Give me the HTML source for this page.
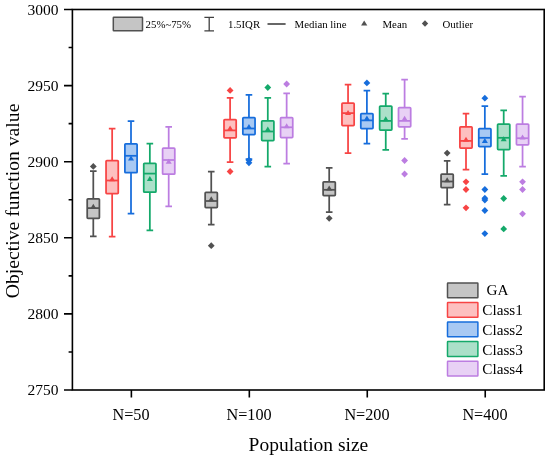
<!DOCTYPE html>
<html lang="en"><head><meta charset="utf-8"><title>Box plot</title>
<style>html,body{margin:0;padding:0;background:#fff}body{width:550px;height:460px;overflow:hidden}</style>
</head><body>
<svg width="550" height="460" viewBox="0 0 550 460" style="display:block">
<rect width="550" height="460" fill="#fff"/>
<g stroke="#515151" stroke-width="1.75" fill="none">
<path d="M93.3 171.2V198.8M93.3 218.3V236.3M90 171.2H96.6M90 236.3H96.6"/>
<rect x="87.2" y="198.8" width="12.2" height="19.5" fill="#c5c5c5" rx="0.8"/>
<path d="M87.2 208.1H99.4"/>
</g>
<path d="M90.3 208.7L96.3 208.7L93.3 203.7Z" fill="#515151"/>
<path d="M89.9 166.4L93.3 163L96.7 166.4L93.3 169.8Z" fill="#515151"/>
<g stroke="#F74444" stroke-width="1.75" fill="none">
<path d="M112.15 128.5V160.5M112.15 193.6V236.5M108.85 128.5H115.45M108.85 236.5H115.45"/>
<rect x="106.05" y="160.5" width="12.2" height="33.1" fill="#fdc0c0" rx="0.8"/>
<path d="M106.05 180.5H118.25"/>
</g>
<path d="M109.15 181.3L115.15 181.3L112.15 176.3Z" fill="#F74444"/>
<g stroke="#166DDC" stroke-width="1.75" fill="none">
<path d="M131 121.1V143.8M131 172.7V213.6M127.7 121.1H134.3M127.7 213.6H134.3"/>
<rect x="124.9" y="143.8" width="12.2" height="28.9" fill="#a8c9f3" rx="0.8"/>
<path d="M124.9 155.8H137.1"/>
</g>
<path d="M128 160.6L134 160.6L131 155.6Z" fill="#166DDC"/>
<g stroke="#14A96A" stroke-width="1.75" fill="none">
<path d="M149.85 143.6V163.3M149.85 192.2V230.4M146.55 143.6H153.15M146.55 230.4H153.15"/>
<rect x="143.75" y="163.3" width="12.2" height="28.9" fill="#abe0c9" rx="0.8"/>
<path d="M143.75 173.6H155.95"/>
</g>
<path d="M146.85 180.9L152.85 180.9L149.85 175.9Z" fill="#14A96A"/>
<g stroke="#BC7DE1" stroke-width="1.75" fill="none">
<path d="M168.7 126.9V148.2M168.7 174.2V206.4M165.4 126.9H172M165.4 206.4H172"/>
<rect x="162.6" y="148.2" width="12.2" height="26" fill="#e8d1f5" rx="0.8"/>
<path d="M162.6 160H174.8"/>
</g>
<path d="M165.7 163.7L171.7 163.7L168.7 158.7Z" fill="#BC7DE1"/>
<g stroke="#515151" stroke-width="1.75" fill="none">
<path d="M211.25 171.5V192.4M211.25 207.5V224.5M207.95 171.5H214.55M207.95 224.5H214.55"/>
<rect x="205.15" y="192.4" width="12.2" height="15.1" fill="#c5c5c5" rx="0.8"/>
<path d="M205.15 201H217.35"/>
</g>
<path d="M208.25 201.2L214.25 201.2L211.25 196.2Z" fill="#515151"/>
<path d="M207.85 245.7L211.25 242.3L214.65 245.7L211.25 249.1Z" fill="#515151"/>
<g stroke="#F74444" stroke-width="1.75" fill="none">
<path d="M230.1 97.8V119.5M230.1 137.9V162.2M226.8 97.8H233.4M226.8 162.2H233.4"/>
<rect x="224" y="119.5" width="12.2" height="18.4" fill="#fdc0c0" rx="0.8"/>
<path d="M224 130.4H236.2"/>
</g>
<path d="M227.1 130.4L233.1 130.4L230.1 125.4Z" fill="#F74444"/>
<path d="M226.7 90.4L230.1 87L233.5 90.4L230.1 93.8Z" fill="#F74444"/>
<path d="M226.7 171.5L230.1 168.1L233.5 171.5L230.1 174.9Z" fill="#F74444"/>
<g stroke="#166DDC" stroke-width="1.75" fill="none">
<path d="M248.95 94.9V117.6M248.95 134.5V159M245.65 94.9H252.25M245.65 159H252.25"/>
<rect x="242.85" y="117.6" width="12.2" height="16.9" fill="#a8c9f3" rx="0.8"/>
<path d="M242.85 128.5H255.05"/>
</g>
<path d="M245.95 128.9L251.95 128.9L248.95 123.9Z" fill="#166DDC"/>
<path d="M245.55 160.2L248.95 156.8L252.35 160.2L248.95 163.6Z" fill="#166DDC"/>
<path d="M245.55 162.8L248.95 159.4L252.35 162.8L248.95 166.2Z" fill="#166DDC"/>
<g stroke="#14A96A" stroke-width="1.75" fill="none">
<path d="M267.8 97.8V120.9M267.8 140.5V166.7M264.5 97.8H271.1M264.5 166.7H271.1"/>
<rect x="261.7" y="120.9" width="12.2" height="19.6" fill="#abe0c9" rx="0.8"/>
<path d="M261.7 131.5H273.9"/>
</g>
<path d="M264.8 131.5L270.8 131.5L267.8 126.5Z" fill="#14A96A"/>
<path d="M264.4 87.5L267.8 84.1L271.2 87.5L267.8 90.9Z" fill="#14A96A"/>
<g stroke="#BC7DE1" stroke-width="1.75" fill="none">
<path d="M286.65 93.3V117.6M286.65 137.6V163.5M283.35 93.3H289.95M283.35 163.5H289.95"/>
<rect x="280.55" y="117.6" width="12.2" height="20" fill="#e8d1f5" rx="0.8"/>
<path d="M280.55 127.3H292.75"/>
</g>
<path d="M283.65 128.2L289.65 128.2L286.65 123.2Z" fill="#BC7DE1"/>
<path d="M283.25 84L286.65 80.6L290.05 84L286.65 87.4Z" fill="#BC7DE1"/>
<g stroke="#515151" stroke-width="1.75" fill="none">
<path d="M329.2 167.9V181.8M329.2 195.6V212.1M325.9 167.9H332.5M325.9 212.1H332.5"/>
<rect x="323.1" y="181.8" width="12.2" height="13.8" fill="#c5c5c5" rx="0.8"/>
<path d="M323.1 189.8H335.3"/>
</g>
<path d="M326.2 190.6L332.2 190.6L329.2 185.6Z" fill="#515151"/>
<path d="M325.8 218.3L329.2 214.9L332.6 218.3L329.2 221.7Z" fill="#515151"/>
<g stroke="#F74444" stroke-width="1.75" fill="none">
<path d="M348.05 84.5V103.1M348.05 125.5V153.1M344.75 84.5H351.35M344.75 153.1H351.35"/>
<rect x="341.95" y="103.1" width="12.2" height="22.4" fill="#fdc0c0" rx="0.8"/>
<path d="M341.95 113.1H354.15"/>
</g>
<path d="M345.05 114.9L351.05 114.9L348.05 109.9Z" fill="#F74444"/>
<g stroke="#166DDC" stroke-width="1.75" fill="none">
<path d="M366.9 90.5V113.6M366.9 128.6V143.6M363.6 90.5H370.2M363.6 143.6H370.2"/>
<rect x="360.8" y="113.6" width="12.2" height="15" fill="#a8c9f3" rx="0.8"/>
<path d="M360.8 120.4H373"/>
</g>
<path d="M363.9 120.4L369.9 120.4L366.9 115.4Z" fill="#166DDC"/>
<path d="M363.5 82.9L366.9 79.5L370.3 82.9L366.9 86.3Z" fill="#166DDC"/>
<g stroke="#14A96A" stroke-width="1.75" fill="none">
<path d="M385.75 93.5V106M385.75 130V149.8M382.45 93.5H389.05M382.45 149.8H389.05"/>
<rect x="379.65" y="106" width="12.2" height="24" fill="#abe0c9" rx="0.8"/>
<path d="M379.65 120.9H391.85"/>
</g>
<path d="M382.75 121.3L388.75 121.3L385.75 116.3Z" fill="#14A96A"/>
<g stroke="#BC7DE1" stroke-width="1.75" fill="none">
<path d="M404.6 79.6V107.6M404.6 126.9V138.9M401.3 79.6H407.9M401.3 138.9H407.9"/>
<rect x="398.5" y="107.6" width="12.2" height="19.3" fill="#e8d1f5" rx="0.8"/>
<path d="M398.5 120.9H410.7"/>
</g>
<path d="M401.6 120.7L407.6 120.7L404.6 115.7Z" fill="#BC7DE1"/>
<path d="M401.2 160.5L404.6 157.1L408 160.5L404.6 163.9Z" fill="#BC7DE1"/>
<path d="M401.2 174L404.6 170.6L408 174L404.6 177.4Z" fill="#BC7DE1"/>
<g stroke="#515151" stroke-width="1.75" fill="none">
<path d="M447.15 160.9V174.2M447.15 187.6V204.5M443.85 160.9H450.45M443.85 204.5H450.45"/>
<rect x="441.05" y="174.2" width="12.2" height="13.4" fill="#c5c5c5" rx="0.8"/>
<path d="M441.05 181.5H453.25"/>
</g>
<path d="M444.15 182.2L450.15 182.2L447.15 177.2Z" fill="#515151"/>
<path d="M443.75 153.1L447.15 149.7L450.55 153.1L447.15 156.5Z" fill="#515151"/>
<g stroke="#F74444" stroke-width="1.75" fill="none">
<path d="M466 113.5V126.9M466 148V169.5M462.7 113.5H469.3M462.7 169.5H469.3"/>
<rect x="459.9" y="126.9" width="12.2" height="21.1" fill="#fdc0c0" rx="0.8"/>
<path d="M459.9 140.9H472.1"/>
</g>
<path d="M463 141.8L469 141.8L466 136.8Z" fill="#F74444"/>
<path d="M462.6 181.8L466 178.4L469.4 181.8L466 185.2Z" fill="#F74444"/>
<path d="M462.6 189.5L466 186.1L469.4 189.5L466 192.9Z" fill="#F74444"/>
<path d="M462.6 207.8L466 204.4L469.4 207.8L466 211.2Z" fill="#F74444"/>
<g stroke="#166DDC" stroke-width="1.75" fill="none">
<path d="M484.85 106V128.7M484.85 146.6V174.2M481.55 106H488.15M481.55 174.2H488.15"/>
<rect x="478.75" y="128.7" width="12.2" height="17.9" fill="#a8c9f3" rx="0.8"/>
<path d="M478.75 137.8H490.95"/>
</g>
<path d="M481.85 143.1L487.85 143.1L484.85 138.1Z" fill="#166DDC"/>
<path d="M481.45 98.2L484.85 94.8L488.25 98.2L484.85 101.6Z" fill="#166DDC"/>
<path d="M481.45 189.5L484.85 186.1L488.25 189.5L484.85 192.9Z" fill="#166DDC"/>
<path d="M481.45 198.2L484.85 194.8L488.25 198.2L484.85 201.6Z" fill="#166DDC"/>
<path d="M481.45 200L484.85 196.6L488.25 200L484.85 203.4Z" fill="#166DDC"/>
<path d="M481.45 210.5L484.85 207.1L488.25 210.5L484.85 213.9Z" fill="#166DDC"/>
<path d="M481.45 233.6L484.85 230.2L488.25 233.6L484.85 237Z" fill="#166DDC"/>
<g stroke="#14A96A" stroke-width="1.75" fill="none">
<path d="M503.7 110.4V124M503.7 149.5V175.8M500.4 110.4H507M500.4 175.8H507"/>
<rect x="497.6" y="124" width="12.2" height="25.5" fill="#abe0c9" rx="0.8"/>
<path d="M497.6 137.8H509.8"/>
</g>
<path d="M500.7 141.3L506.7 141.3L503.7 136.3Z" fill="#14A96A"/>
<path d="M500.3 198.5L503.7 195.1L507.1 198.5L503.7 201.9Z" fill="#14A96A"/>
<path d="M500.3 228.9L503.7 225.5L507.1 228.9L503.7 232.3Z" fill="#14A96A"/>
<g stroke="#BC7DE1" stroke-width="1.75" fill="none">
<path d="M522.55 96.7V124M522.55 144.9V166.7M519.25 96.7H525.85M519.25 166.7H525.85"/>
<rect x="516.45" y="124" width="12.2" height="20.9" fill="#e8d1f5" rx="0.8"/>
<path d="M516.45 138.2H528.65"/>
</g>
<path d="M519.55 139.5L525.55 139.5L522.55 134.5Z" fill="#BC7DE1"/>
<path d="M519.15 181.8L522.55 178.4L525.95 181.8L522.55 185.2Z" fill="#BC7DE1"/>
<path d="M519.15 189.5L522.55 186.1L525.95 189.5L522.55 192.9Z" fill="#BC7DE1"/>
<path d="M519.15 213.8L522.55 210.4L525.95 213.8L522.55 217.2Z" fill="#BC7DE1"/>
<g stroke="#000" stroke-width="1.6" fill="none">
<rect x="72.4" y="9.5" width="471.8" height="380.5"/>
<path d="M64 9.5H72.4M64 85.6H72.4M64 161.7H72.4M64 237.8H72.4M64 313.9H72.4M64 390H72.4M68.6 47.55H72.4M68.6 123.65H72.4M68.6 199.75H72.4M68.6 275.85H72.4M68.6 351.95H72.4M131.38 390.0V397.6M249.33 390.0V397.6M367.27 390.0V397.6M485.23 390.0V397.6"/>
</g>
<g font-family="'Liberation Serif', 'Times New Roman', serif" fill="#000">
<g font-size="15.5" text-anchor="end">
<text x="58.6" y="14.8">3000</text>
<text x="58.6" y="90.9">2950</text>
<text x="58.6" y="167">2900</text>
<text x="58.6" y="243.1">2850</text>
<text x="58.6" y="319.2">2800</text>
<text x="58.6" y="395.3">2750</text>
</g>
<g font-size="16.2" text-anchor="middle">
<text x="131.07" y="420.2">N=50</text>
<text x="249.03" y="420.2">N=100</text>
<text x="366.97" y="420.2">N=200</text>
<text x="484.93" y="420.2">N=400</text>
</g>
<text x="308.4" y="450.6" font-size="19.5" text-anchor="middle">Population size</text>
<text transform="translate(19.3 200.9) rotate(-90)" font-size="19.7" text-anchor="middle">Objective function value</text>
<g font-size="10.8">
<text x="145.6" y="27.9">25%~75%</text>
<text x="228" y="27.9">1.5IQR</text>
<text x="294.6" y="27.9">Median line</text>
<text x="382.5" y="27.9">Mean</text>
<text x="442.5" y="27.9">Outlier</text>
</g>
<g font-size="15.2">
<text x="486.5" y="295.4">GA</text>
<text x="482.3" y="315.3">Class1</text>
<text x="482.3" y="334.9">Class2</text>
<text x="482.3" y="354.5">Class3</text>
<text x="482.3" y="374.1">Class4</text>
</g>
</g>
<rect x="113.3" y="17.2" width="29.2" height="13.6" fill="#c5c5c5" stroke="#515151" stroke-width="1.5" rx="0.5"/>
<path d="M209.2 17.4V30.8M204.4 17.4H214M204.4 30.8H214" stroke="#404040" stroke-width="1.3" fill="none"/>
<path d="M267.5 24H285.6" stroke="#404040" stroke-width="1.6" fill="none"/>
<path d="M361.1 25.6L367.3 25.6L364.2 20.5Z" fill="#515151"/>
<path d="M421.8 23.5L425 20.3L428.2 23.5L425 26.7Z" fill="#515151"/>
<rect x="447.5" y="282.9" width="30.4" height="14.9" fill="#c5c5c5" stroke="#515151" stroke-width="1.5" rx="0.5"/>
<rect x="447.5" y="302.4" width="30.4" height="14.9" fill="#fdc0c0" stroke="#F74444" stroke-width="1.5" rx="0.5"/>
<rect x="447.5" y="321.9" width="30.4" height="14.9" fill="#a8c9f3" stroke="#166DDC" stroke-width="1.5" rx="0.5"/>
<rect x="447.5" y="341.5" width="30.4" height="14.9" fill="#abe0c9" stroke="#14A96A" stroke-width="1.5" rx="0.5"/>
<rect x="447.5" y="361.2" width="30.4" height="14.9" fill="#e8d1f5" stroke="#BC7DE1" stroke-width="1.5" rx="0.5"/>
</svg>
</body></html>
